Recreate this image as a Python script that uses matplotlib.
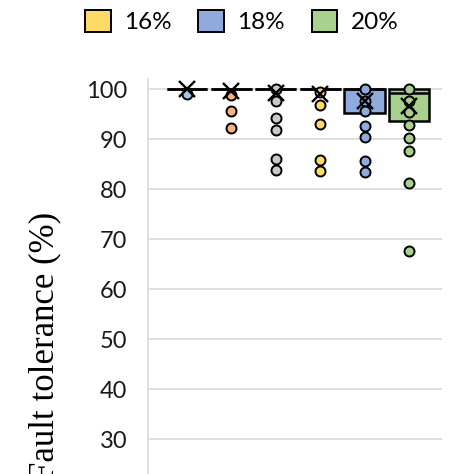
import matplotlib
matplotlib.use("Agg")
import matplotlib.pyplot as plt
from matplotlib.patches import Patch

# Datos
positions = [1, 2, 3, 4, 5, 6]
q1 = [100, 100, 100, 100, 95.2, 93.7]
median = [100, 100, 100, 100, 100, 99.3]
q3 = [100, 100, 100, 100, 100, 100]
means = [100, 99.6, 99.2, 99.0, 97.6, 96.6]

points = [
    [99.1],
    [98.9, 95.6, 92.2],
    [100, 97.6, 94.3, 91.9, 86.1, 83.9],
    [99.4, 96.8, 93.0, 85.9, 83.7],
    [100, 97.6, 95.6, 92.7, 90.4, 85.6, 83.4],
    [100, 97.7, 95.4, 92.8, 90.2, 87.7, 81.3, 67.6],
]
colors = ["#A7C4E0", "#F4B183", "#C9C9C9", "#FFD966", "#8FAADC", "#A9D18E"]

legend_labels = ["16%", "18%", "20%"]
legend_colors = ["#FFD966", "#8FAADC", "#A9D18E"]

yticks = [30, 40, 50, 60, 70, 80, 90, 100]

fig = plt.figure(figsize=(4.74, 4.74), dpi=100)
ax = fig.add_axes([0.3122, -0.0327, 0.62, 0.865])

stats = []
for i in range(len(positions)):
    stats.append({
        "q1": q1[i], "med": median[i], "q3": q3[i], "mean": means[i],
        "whislo": q1[i], "whishi": q3[i], "fliers": [],
    })

bp = ax.bxp(stats, positions=positions, widths=0.92, patch_artist=True,
            showmeans=True, showcaps=False, showfliers=False,
            boxprops=dict(linewidth=1.8, edgecolor="black"),
            medianprops=dict(color="black", linewidth=1.8),
            whiskerprops=dict(linewidth=0),
            meanprops=dict(marker="x", markersize=12, markeredgecolor="black",
                           markeredgewidth=1.7))
for patch, c in zip(bp["boxes"], colors):
    patch.set_facecolor(c)
    patch.set_zorder(2)
for m in bp["medians"]:
    m.set_zorder(2.5)
for m in bp["means"]:
    m.set_zorder(4)

for pos, vals, c in zip(positions, points, colors):
    ax.plot([pos] * len(vals), vals, linestyle="none", marker="o",
            markersize=7.2, markerfacecolor=c, markeredgecolor="black",
            markeredgewidth=1.4, zorder=3)

ax.set_xlim(0.12, 6.74)
ax.set_ylim(20, 102)
ax.set_yticks(yticks)
ax.set_xticks([])
ax.grid(axis="y", color="#D9D9D9", linewidth=1.2)
ax.set_axisbelow(True)
for s in ["top", "right", "bottom"]:
    ax.spines[s].set_visible(False)
ax.spines["left"].set_color("#D9D9D9")
ax.spines["left"].set_linewidth(1.2)
ax.tick_params(axis="y", length=0, pad=15, labelsize=17, labelcolor="#1a1a1a")
for lab in ax.get_yticklabels():
    lab.set_fontfamily("Lato")

fig.text(0.095, 0.27, "Fault tolerance (%)", rotation=90, fontsize=25,
         family="Liberation Serif", ha="center", va="center")

handles = [Patch(facecolor=c, edgecolor="black", linewidth=1.4) for c in legend_colors]
fig.legend(handles, legend_labels, loc="center", bbox_to_anchor=(0.51, 0.955),
           ncol=3, frameon=False, handlelength=1.05, handleheight=1.05,
           handletextpad=0.55, columnspacing=1.1,
           prop={"family": "Lato", "size": 17.5})

fig.savefig("out.png", dpi=100)
